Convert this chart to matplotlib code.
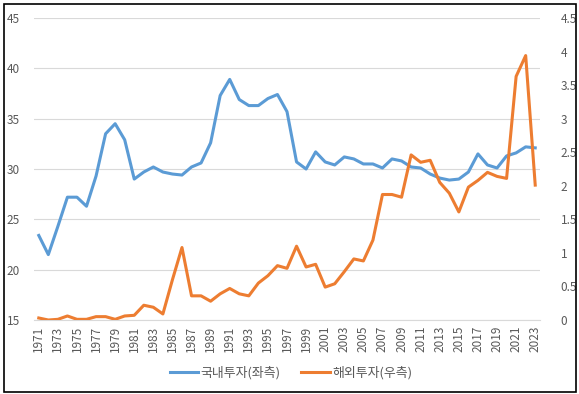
import matplotlib
matplotlib.use("Agg")
import matplotlib.pyplot as plt
from matplotlib.patches import Rectangle

plt.rcParams['font.family'] = ['Noto Sans CJK KR', 'DejaVu Sans']

years = list(range(1971, 2024))
domestic = [23.4, 21.5, 24.3, 27.2, 27.2, 26.3, 29.3, 33.5, 34.5, 32.9,
            29.0, 29.7, 30.2, 29.7, 29.5, 29.4, 30.2, 30.6, 32.6, 37.3,
            38.9, 36.9, 36.3, 36.3, 37.0, 37.4, 35.7, 30.7, 30.0, 31.7,
            30.7, 30.4, 31.2, 31.0, 30.5, 30.5, 30.1, 31.0, 30.8, 30.2,
            30.1, 29.5, 29.1, 28.9, 29.0, 29.7, 31.5, 30.4, 30.1, 31.3,
            31.6, 32.2, 32.1]
overseas = [0.03, 0.00, 0.01, 0.06, 0.01, 0.01, 0.05, 0.05, 0.01, 0.06,
            0.07, 0.22, 0.19, 0.09, 0.60, 1.08, 0.36, 0.36, 0.28, 0.39,
            0.47, 0.39, 0.36, 0.55, 0.66, 0.81, 0.77, 1.10, 0.79, 0.83,
            0.49, 0.54, 0.72, 0.91, 0.88, 1.19, 1.87, 1.87, 1.83, 2.46,
            2.35, 2.38, 2.05, 1.89, 1.61, 1.98, 2.08, 2.20, 2.14, 2.11,
            3.63, 3.94, 2.01]
left_ticks = [15, 20, 25, 30, 35, 40, 45]
right_ticks = [0, 0.5, 1, 1.5, 2, 2.5, 3, 3.5, 4, 4.5]
right_labels = ['0', '0.5', '1', '1.5', '2', '2.5', '3', '3.5', '4', '4.5']
label_dom = '국내투자(좌측)'
label_ovs = '해외투자(우측)'

W, H = 579, 394
fig = plt.figure(figsize=(W / 100, H / 100), dpi=100)
ax = fig.add_axes([34 / W, 1 - 320 / H, (540 - 34) / W, (320 - 18) / H])
ax2 = ax.twinx()

x = list(range(len(years)))
blue = '#5B9BD5'
orange = '#ED7D31'
l1, = ax.plot(x, domestic, color=blue, lw=2.2, label=label_dom, solid_joinstyle='round', zorder=3)
l2, = ax2.plot(x, overseas, color=orange, lw=2.2, label=label_ovs, solid_joinstyle='round', zorder=3)

ax.set_xlim(-0.5, len(years) - 0.5)
ax.set_ylim(15, 45)
ax2.set_ylim(0, 4.5)
ax.set_yticks(left_ticks)
ax.set_yticklabels([str(t) for t in left_ticks])
ax2.set_yticks(right_ticks)
ax2.set_yticklabels(right_labels)
ax.set_xticks(x[::2])
ax.set_xticklabels([str(y) for y in years[::2]], rotation=90)

ax.grid(axis='y', color='#D9D9D9', lw=0.8)
ax.set_axisbelow(True)
for a in (ax, ax2):
    for s in a.spines.values():
        s.set_visible(False)
ax.spines['bottom'].set_visible(True)
ax.spines['bottom'].set_color('#D9D9D9')
ax.spines['bottom'].set_linewidth(0.8)

ax.tick_params(axis='both', length=0, labelsize=8.5, colors='#595959', pad=4)
ax.tick_params(axis='y', pad=10)
ax2.tick_params(axis='y', length=0, labelsize=8.5, colors='#595959', pad=15)

fig.legend(handles=[l1, l2], loc='center', bbox_to_anchor=(291 / W, 1 - 373 / H),
           ncol=2, frameon=False, fontsize=9.3, handlelength=2.2, columnspacing=1.6,
           handletextpad=0.2, labelcolor='#595959')

fig.patches.append(Rectangle((3.5 / W, 1 - 392 / H), (575.5 - 3.5) / W, (392 - 4) / H,
                             transform=fig.transFigure, fill=False, edgecolor='black', lw=1.2))

fig.savefig('out.png', dpi=100)
